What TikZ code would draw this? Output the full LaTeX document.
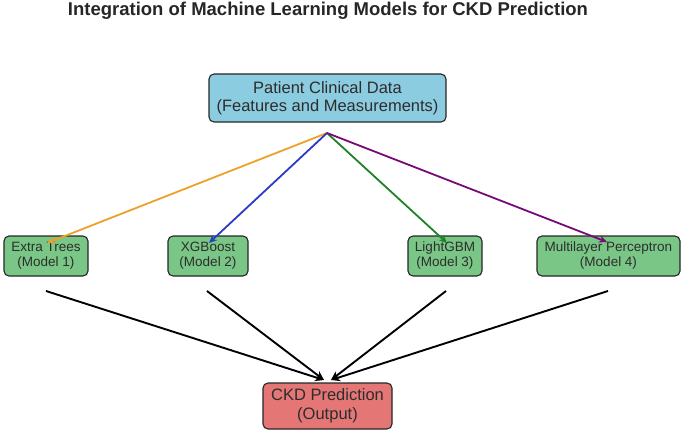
\documentclass[tikz,border=0pt]{standalone}
\usepackage{fontspec}
\setmainfont{Liberation Sans}
\usetikzlibrary{arrows.meta}

\definecolor{databl}{RGB}{140,204,224}
\definecolor{modelgr}{RGB}{122,198,134}
\definecolor{outrd}{RGB}{228,118,118}
\definecolor{inktx}{RGB}{45,45,45}
\definecolor{arrorange}{RGB}{238,160,40}
\definecolor{arrblue}{RGB}{40,60,200}
\definecolor{arrgreen}{RGB}{30,130,40}
\definecolor{arrpurple}{RGB}{120,10,120}

\begin{document}
\begin{tikzpicture}[x=1pt, y=-1pt,
  box/.style = {draw=black!85, line width=1.1pt, rounded corners=5pt, align=center, inner sep=0pt, text=inktx, font=\fontsize{13.5}{15}\selectfont},
  feed/.style = {-{Stealth[length=8pt, width=7pt]}, line width=1.8pt},
  vote/.style = {-{Stealth[length=9pt, width=8pt]}, line width=1.9pt, black}]
\useasboundingbox (0,0) rectangle (685,433);
\node [text=black!85, font=\bfseries\fontsize{18.5}{20}\selectfont] (title) at (328,11) {Integration of Machine Learning Models for CKD Prediction};

\node [box, fill=databl, minimum width=237pt, minimum height=48pt, font=\fontsize{16.5}{18.5}\selectfont] (data) at (327.5,98) {Patient Clinical Data\\(Features and Measurements)};

\node [box, fill=modelgr, minimum width=84pt, minimum height=40pt] (et) at (46,256) {Extra Trees\\(Model 1)};
\node [box, fill=modelgr, minimum width=80pt, minimum height=40pt] (xgb) at (208,256) {XGBoost\\(Model 2)};
\node [box, fill=modelgr, minimum width=74pt, minimum height=40pt] (lgbm) at (445,256) {LightGBM\\(Model 3)};
\node [box, fill=modelgr, minimum width=143pt, minimum height=40pt] (mlp) at (608.5,256) {Multilayer Perceptron\\(Model 4)};

\node [box, fill=outrd, minimum width=129pt, minimum height=46pt, font=\fontsize{16.5}{19}\selectfont] (out) at (327.5,406) {CKD Prediction\\(Output)};

% arrow ends
\coordinate (src) at (327,133);
\coordinate (etin) at (47,243);
\coordinate (xgbin) at (209,243);
\coordinate (lgbmin) at (447,243);
\coordinate (mlpin) at (607,242);
\coordinate (etout) at (46,291);
\coordinate (xgbout) at (207,291);
\coordinate (lgbmout) at (446,291);
\coordinate (mlpout) at (608,291);
\coordinate (outinL) at (324,380);
\coordinate (outinR) at (331,380);

\draw [feed, arrorange] (src) -- (etin);
\draw [feed, arrblue] (src) -- (xgbin);
\draw [feed, arrgreen] (src) -- (lgbmin);
\draw [feed, arrpurple] (src) -- (mlpin);

\draw [vote] (etout) -- (outinL);
\draw [vote] (xgbout) -- (outinL);
\draw [vote] (lgbmout) -- (outinR);
\draw [vote] (mlpout) -- (outinR);
\end{tikzpicture}
\end{document}
